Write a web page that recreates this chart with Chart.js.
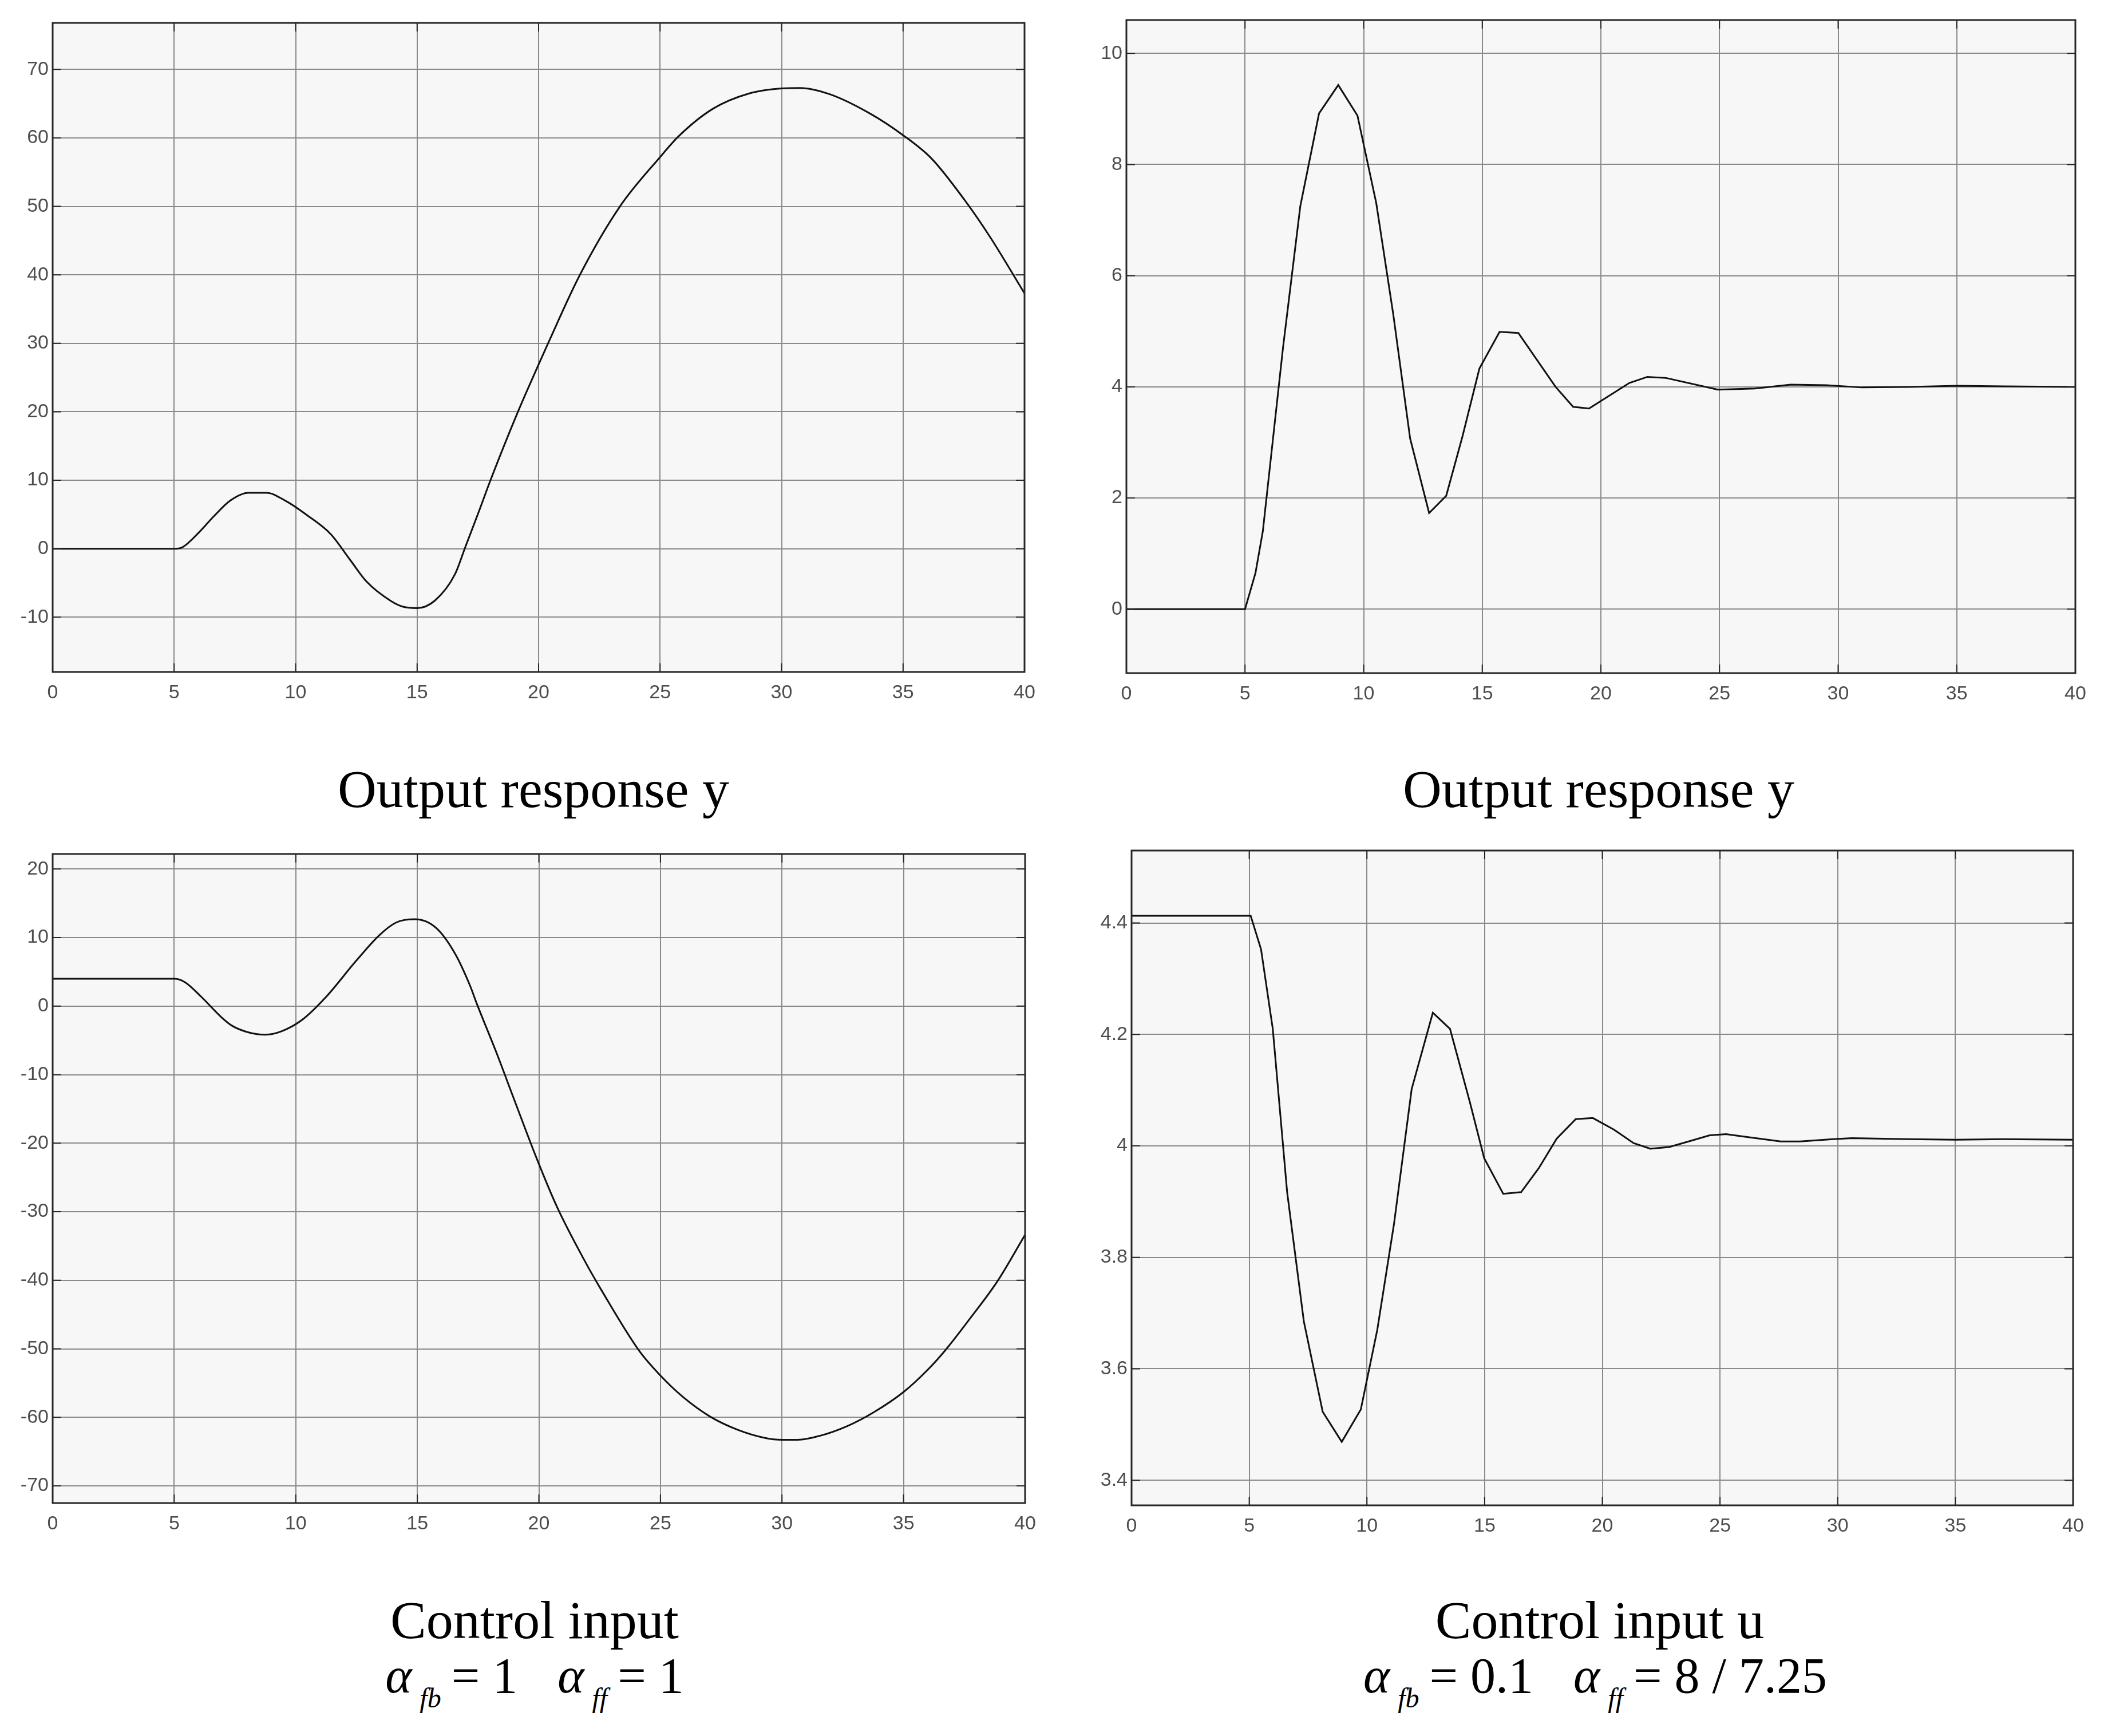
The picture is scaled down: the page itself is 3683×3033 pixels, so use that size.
<!DOCTYPE html>
<html>
<head>
<meta charset="utf-8">
<script src="https://cdn.jsdelivr.net/npm/chart.js@4.4.1/dist/chart.umd.min.js"></script>
<style>
  html, body { margin: 0; padding: 0; background: #fff; }
  body { width: 3683px; height: 3033px; position: relative; overflow: hidden; }
  .panel { position: absolute; }
  .cap {
    position: absolute; width: 1400px; text-align: center;
    font-family: "Liberation Serif", "DejaVu Serif", serif;
    font-size: 94px; line-height: 94px; color: #000; white-space: nowrap;
  }
  .cap.alpha { font-size: 88px; line-height: 88px; }
  .cap i { font-style: italic; }
  .cap sub { font-style: italic; font-size: 48px; vertical-align: -26px; margin-left: 14px; margin-right: 18px; }
  .gap { display: inline-block; width: 70px; }
</style>
</head>
<body>
<div class="panel" id="pTL"><canvas id="cTL"></canvas></div>
<div class="panel" id="pTR"><canvas id="cTR"></canvas></div>
<div class="panel" id="pBL"><canvas id="cBL"></canvas></div>
<div class="panel" id="pBR"><canvas id="cBR"></canvas></div>

<div class="cap" style="left:232px; top:1331px;">Output response y</div>
<div class="cap" style="left:2093px; top:1331px;">Output response y</div>
<div class="cap" style="left:234px; top:2783px;">Control input</div>
<div class="cap" style="left:2095px; top:2783px;">Control input u</div>
<div class="cap alpha" style="left:234px; top:2884px;"><i>α</i><sub>fb</sub>= 1<span class="gap"></span><i>α</i><sub>ff</sub>= 1</div>
<div class="cap alpha" style="left:2087px; top:2884px;"><i>α</i><sub>fb</sub>= 0.1<span class="gap"></span><i>α</i><sub>ff</sub>= 8 / 7.25</div>

<script>
// ---- data ----
const xTicks = [0, 5, 10, 15, 20, 25, 30, 35, 40];

// output y, alpha_fb = 1, alpha_ff = 1
const timeY1 = [0, 5, 5.33, 6.0, 6.65, 7.32, 8.06, 8.8, 9.63, 10.45, 11.44, 12.27, 12.93, 13.92, 14.42, 15.0,
  15.74, 16.56, 16.98, 17.57, 18.02, 19.15, 20.0, 20.39, 21.7, 23.35, 25.0, 25.75, 27.17, 28.67, 30.0, 30.77,
  31.97, 33.62, 35.0, 36.17, 37.52, 38.57, 40];
const outY1 = [0, 0, 0.2, 2.3, 4.8, 7.05, 8.16, 8.16, 6.9, 4.95, 2.15, -1.76, -4.84, -7.63, -8.47, -8.67,
  -7.55, -3.72, 0.2, 5.7, 10, 20, 26.9, 30, 40, 50, 57.2, 60.2, 64.25, 66.5, 67.23, 67.3,
  66.4, 63.6, 60.4, 57.0, 51.0, 45.6, 37.3];
const yTicks1 = [-10, 0, 10, 20, 30, 40, 50, 60, 70];

// output y, alpha_fb = 0.1, alpha_ff = 8/7.25
const timeY2 = [0, 5.0, 5.44, 5.75, 6.6, 7.33, 8.12, 8.93, 9.74, 10.53, 11.25, 11.96, 12.76, 13.48, 14.16, 14.88,
  15.73, 16.52, 18.09, 18.83, 19.5, 21.2, 21.96, 22.75, 24.93, 26.5, 28.0, 29.5, 31.0, 33.0, 35.0, 37.0, 40];
const outY2 = [0, 0, 0.65, 1.4, 4.7, 7.25, 8.92, 9.43, 8.88, 7.31, 5.3, 3.07, 1.73, 2.04, 3.1, 4.33,
  4.99, 4.97, 4.0, 3.64, 3.61, 4.07, 4.18, 4.16, 3.95, 3.97, 4.04, 4.03, 3.99, 4.0, 4.02, 4.01, 4.0];
const yTicks2 = [0, 2, 4, 6, 8, 10];

// control input, alpha_fb = 1, alpha_ff = 1
const timeU1 = [0, 5.02, 5.44, 6.13, 6.95, 7.37, 8.06, 8.75, 9.44, 10.27, 11.24, 12.48, 13.44, 14.13, 14.9, 15.79,
  16.56, 17.17, 17.45, 18.27, 18.97, 19.93, 20.76, 21.86, 22.55, 24.12, 25.0, 25.92, 27.05, 28.17, 29.3, 30.0,
  30.65, 31.55, 32.67, 33.8, 35.0, 36.05, 36.72, 37.73, 38.86, 40];
const inU1 = [4, 4, 3.5, 1.3, -1.65, -2.84, -3.83, -4.16, -3.63, -1.98, 1.32, 6.6, 10.36, 12.2, 12.67, 11.35,
  7.6, 2.97, 0.33, -6.93, -13.5, -22.4, -29.4, -37, -41.3, -50.26, -53.9, -57.0, -59.9, -61.8, -63.0, -63.27,
  -63.27, -62.7, -61.3, -59.2, -56.3, -52.85, -50.2, -45.6, -40.15, -33.35];
const uTicks1 = [-70, -60, -50, -40, -30, -20, -10, 0, 10, 20];

// control input u, alpha_fb = 0.1, alpha_ff = 8/7.25
const timeU2 = [0, 5.06, 5.5, 6.0, 6.61, 7.32, 8.12, 8.93, 9.74, 10.44, 11.15, 11.9, 12.8, 13.53, 14.37, 14.98,
  15.79, 16.55, 17.3, 18.06, 18.87, 19.6, 20.5, 21.33, 22.04, 22.84, 23.75, 24.56, 25.26, 25.97, 27.58, 28.4,
  29.8, 30.6, 33, 35, 37, 40];
const inU2 = [4.413, 4.413, 4.353, 4.21, 3.917, 3.685, 3.523, 3.469, 3.527, 3.67, 3.86, 4.102, 4.239, 4.21, 4.079, 3.978,
  3.914, 3.917, 3.96, 4.013, 4.048, 4.05, 4.029, 4.005, 3.995, 3.998, 4.009, 4.019, 4.021, 4.017, 4.008, 4.008,
  4.012, 4.014, 4.012, 4.011, 4.012, 4.011];
const uTicks2 = [3.4, 3.6, 3.8, 4, 4.2, 4.4];

// ---- drawing ----
const PADL = 120, PADT = 20, PADR = 24, PADB = 80;

// background of the axes box, frame and inward tick marks (scope style)
const frame = {
  id: 'frame',
  beforeDraw(c) {
    const a = c.chartArea, ctx = c.ctx;
    ctx.save();
    ctx.fillStyle = '#f7f7f7';
    ctx.fillRect(a.left, a.top, a.right - a.left, a.bottom - a.top);
    ctx.restore();
  },
  afterDraw(c) {
    const a = c.chartArea, ctx = c.ctx, L = 15;
    ctx.save();
    ctx.strokeStyle = '#262626';
    ctx.lineWidth = 2;
    ctx.beginPath();
    c.scales.x.ticks.forEach(t => {
      const px = c.scales.x.getPixelForValue(t.value);
      ctx.moveTo(px, a.bottom); ctx.lineTo(px, a.bottom - L);
      ctx.moveTo(px, a.top); ctx.lineTo(px, a.top + L);
    });
    c.scales.y.ticks.forEach(t => {
      const py = c.scales.y.getPixelForValue(t.value);
      ctx.moveTo(a.left, py); ctx.lineTo(a.left + L, py);
      ctx.moveTo(a.right, py); ctx.lineTo(a.right - L, py);
    });
    ctx.stroke();
    ctx.lineWidth = 3;
    ctx.strokeRect(a.left, a.top, a.right - a.left, a.bottom - a.top);
    ctx.restore();
  }
};

function makeChart(id, rect, xs, ys, yTicks, yMin, yMax, smooth) {
  const [L, T, R, B] = rect;
  const box = document.getElementById('p' + id);
  box.style.left = (L - PADL) + 'px';
  box.style.top = (T - PADT) + 'px';
  box.style.width = (R - L + PADL + PADR) + 'px';
  box.style.height = (B - T + PADT + PADB) + 'px';

  const tickFont = { family: 'Liberation Sans, Arial, sans-serif', size: 34 };
  return new Chart(document.getElementById('c' + id), {
    type: 'line',
    data: {
      datasets: [{
        data: xs.map((x, i) => ({ x: x, y: ys[i] })),
        borderColor: '#111',
        borderWidth: 3,
        pointRadius: 0,
        cubicInterpolationMode: smooth ? 'monotone' : 'default',
        tension: 0,
        fill: false
      }]
    },
    options: {
      responsive: true,
      maintainAspectRatio: false,
      animation: false,
      layout: { padding: { left: 0, top: PADT, right: PADR, bottom: 0 } },
      plugins: { legend: { display: false }, tooltip: { enabled: false } },
      scales: {
        x: {
          type: 'linear', min: 0, max: 40,
          afterBuildTicks: s => { s.ticks = xTicks.map(v => ({ value: v })); },
          afterFit: s => { s.height = PADB; s.paddingLeft = 0; s.paddingRight = 0; },
          ticks: { font: tickFont, color: '#4d4d4d', padding: 16, maxRotation: 0, callback: v => String(v) },
          grid: { color: '#8a8a8a', lineWidth: 2, drawTicks: false },
          border: { display: false }
        },
        y: {
          type: 'linear', min: yMin, max: yMax,
          afterBuildTicks: s => { s.ticks = yTicks.map(v => ({ value: v })); },
          afterFit: s => { s.width = PADL; s.paddingTop = 0; s.paddingBottom = 0; },
          ticks: { font: tickFont, color: '#4d4d4d', padding: 7, callback: v => String(v) },
          grid: { color: '#8a8a8a', lineWidth: 2, drawTicks: false },
          border: { display: false }
        }
      }
    },
    plugins: [frame]
  });
}

makeChart('TL', [92, 40, 1790, 1174], timeY1, outY1, yTicks1, -18, 76.8, true);
makeChart('TR', [1968, 35, 3626, 1176], timeY2, outY2, yTicks2, -1.15, 10.6, false);
makeChart('BL', [92, 1492, 1791, 2626], timeU1, inU1, uTicks1, -72.5, 22.2, true);
makeChart('BR', [1977, 1486, 3622, 2630], timeU2, inU2, uTicks2, 3.355, 4.53, false);
</script>
</body>
</html>
